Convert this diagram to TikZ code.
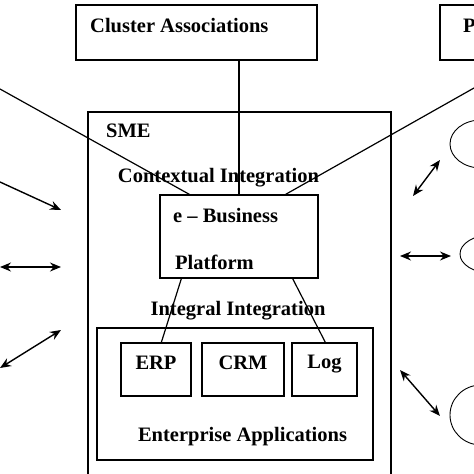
\documentclass[tikz,border=0pt]{standalone}
\usepackage{fontspec}
\setmainfont{Liberation Serif}
\usetikzlibrary{arrows.meta,shapes.geometric}

\begin{document}
\begin{tikzpicture}[x=1pt,y=-1pt]
		\useasboundingbox (0,0) rectangle (474,474);
		\clip (0,0) rectangle (474,474);

		% boxes
		\begin{scope}[every node/.style={rectangle,draw,line width=1.3pt,inner sep=0pt}]
			\node[minimum width=241pt,minimum height=55pt] (cluster) at (196.5,32.5) {};
			\node[minimum width=70pt,minimum height=55pt] (partner) at (475,32.5) {};
			\node[minimum width=303pt,minimum height=370pt] (sme) at (239.5,297) {};
			\node[minimum width=158pt,minimum height=83pt] (eb) at (239,236.5) {};
			\node[minimum width=276pt,minimum height=132pt] (ea) at (235,394) {};
			\node[minimum width=70pt,minimum height=53pt] (erp) at (156,369.5) {};
			\node[minimum width=82pt,minimum height=53pt] (crm) at (243,369.5) {};
			\node[minimum width=65pt,minimum height=53pt] (log) at (324.5,369.5) {};
		\end{scope}

		% outside partners
		\begin{scope}[every node/.style={ellipse,draw,line width=0.9pt,inner sep=0pt}]
			\node[minimum width=62pt,minimum height=48pt] (o1) at (481,144) {};
			\node[minimum width=62pt,minimum height=38pt] (o2) at (491,254) {};
			\node[minimum width=62pt,minimum height=60pt] (o3) at (481,415) {};
		\end{scope}

		% texts
		\begin{scope}[every node/.style={font=\bfseries\fontsize{20.5}{24}\selectfont,inner sep=0pt}]
			\node[anchor=west] (tcluster) at (90,26) {Cluster Associations};
			\node[anchor=west] (tpartner) at (463,26) {P};
			\node[anchor=west] (tsme) at (106,131) {SME};
			\node (tctx) at (218.5,178) {Contextual Integration};
			\node[anchor=west] (teb) at (173,216) {e -- Business};
			\node[anchor=west] (tplat) at (175,262) {Platform};
			\node (tint) at (238,311) {Integral Integration};
			\node (terp) at (156,363) {ERP};
			\node (tcrm) at (243,363) {CRM};
			\node (tlog) at (324.5,364) {Log};
			\node (tea) at (242.5,437) {Enterprise Applications};
		\end{scope}

		% free ends
		\coordinate (lt) at (0,89);
		\coordinate (rt) at (474,88);
		\coordinate (a1) at (0,182);   \coordinate (b1) at (61,210);
		\coordinate (a2) at (0,267);   \coordinate (b2) at (61,267);
		\coordinate (a3) at (0,368);   \coordinate (b3) at (61,330);
		\coordinate (a4) at (413,196); \coordinate (b4) at (440,160);
		\coordinate (a5) at (400,256); \coordinate (b5) at (451,256);
		\coordinate (a6) at (400,370); \coordinate (b6) at (440,416);

		% links
		\begin{scope}[every edge/.style={draw=black,line width=1.2pt}]
			\path [-] (eb.north) edge (eb.north |- cluster.south);
			\path [-] (lt) edge ([xshift=30pt]eb.north west);
			\path [-] (rt) edge ([xshift=-33pt]eb.north east);
			\path [-] ([xshift=22pt]eb.south west) edge ([xshift=41pt]erp.north west);
			\path [-] (eb.south) edge (eb.south -| crm.north);
			\path [-] ([xshift=-26pt]eb.south east) edge ([xshift=34pt]log.north west);
		\end{scope}

		% arrows
		\begin{scope}[>={Stealth[length=11pt,width=9pt]},
					  every edge/.style={draw=black,line width=1.4pt}]
			\path [->] (a1) edge (b1);
			\path [<->] (a2) edge (b2);
			\path [<->] (a3) edge (b3);
			\path [<->] (a4) edge (b4);
			\path [<->] (a5) edge (b5);
			\path [<->] (a6) edge (b6);
		\end{scope}
		\end{tikzpicture}
\end{document}
